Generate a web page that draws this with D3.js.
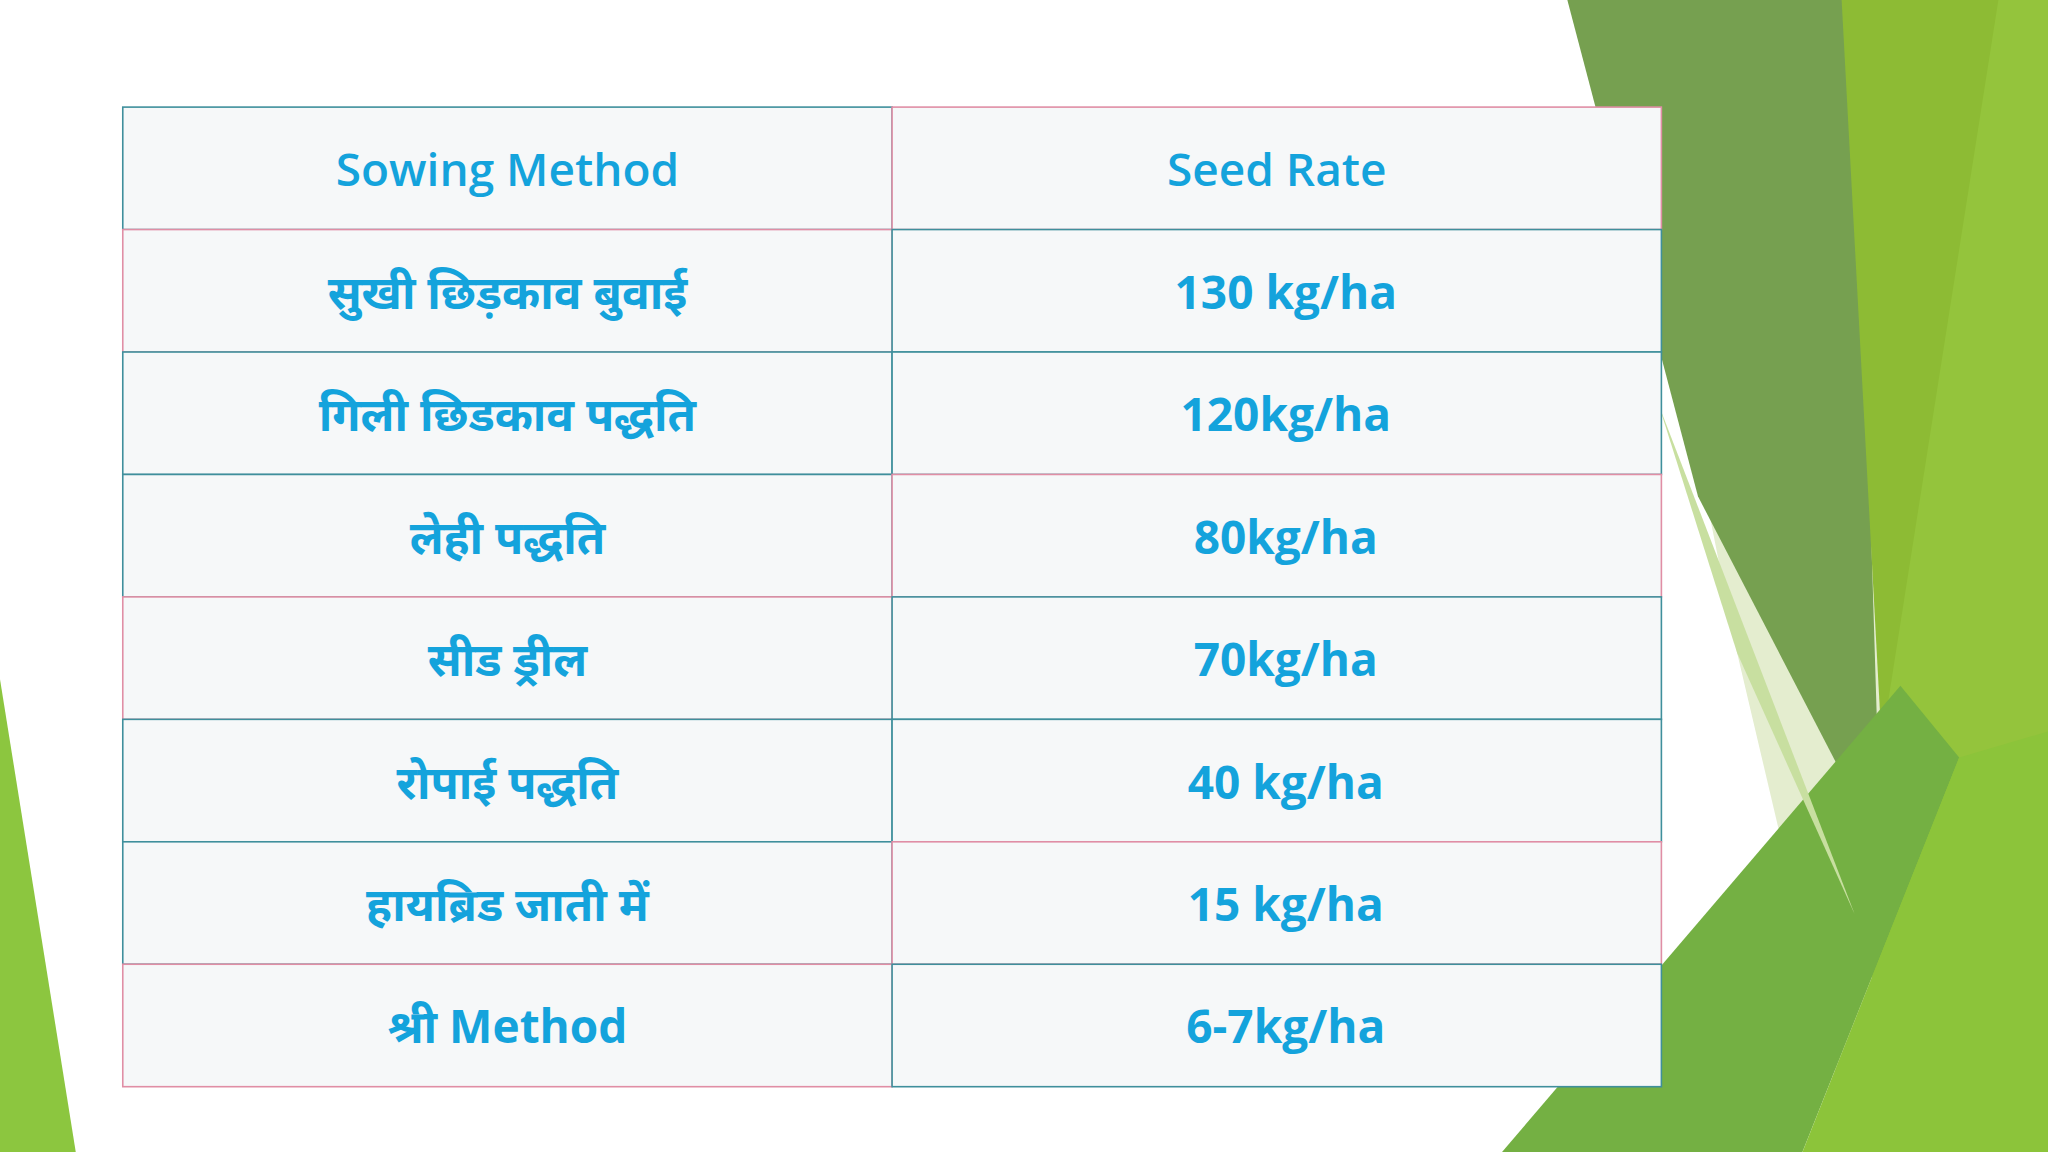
<!DOCTYPE html>
<html><head><meta charset="utf-8">
<script src="https://cdn.jsdelivr.net/npm/d3@7"></script>
<style>body{margin:0;background:#fff;}svg{display:block}</style>
</head><body>
<svg id="c" width="2048" height="1152"></svg>
<script>
const headers = ["Sowing Method", "Seed Rate"];
const methods = ["सुखी  छिड़काव  बुवाई", "गिली  छिडकाव  पद्धति", "लेही  पद्धति", "सीड  ड्रील", "रोपाई  पद्धति", "हायब्रिड  जाती  में", "श्री  Method"];
const rates = ["130 kg/ha", "120kg/ha", "80kg/ha", "70kg/ha", "40 kg/ha", "15 kg/ha", "6-7kg/ha"];

const svg = d3.select("#c");
const k = 2048/1568;
const P = pts => pts.map(p => [p[0]*k, p[1]*k].join(",")).join(" ");
// background shapes
const shapes = [
  [[[0,520],[58,882],[0,882]], "#8cc63f"],
  [[[1230,0],[1568,0],[1568,882],[1420,882],[1330,500]], "#e4edcf"],
  [[[1200,0],[1420,0],[1440,650],[1300,380]], "#76a050"],
  [[[1410,0],[1535,0],[1445,650]], "#8dbb34"],
  [[[1530,0],[1568,0],[1568,882],[1470,882],[1420,700]], "#94c43c"],
  [[[1150,882],[1455,525],[1500,580],[1380,882]], "#74b043"],
  [[[1380,882],[1500,580],[1568,560],[1568,882]], "#8cc43a"],
  [[[1270,310],[1420,700],[1330,500]], "#c8dfa0"]
];
svg.selectAll("polygon.bg").data(shapes).join("polygon")
  .attr("points", d => P(d[0])).attr("fill", d => d[1]);

const rows = [headers].concat(methods.map((m,i)=>[m, rates[i]]));
const x = d3.scaleBand().domain([0,1]).range([94*k, 1272*k]);
const y = d3.scaleBand().domain(d3.range(rows.length)).range([82*k, 832*k]);
const cells = [];
rows.forEach((r,i)=>r.forEach((t,j)=>cells.push({i,j,t})));
svg.selectAll("rect.cell").data(cells).join("rect")
  .attr("x", d=>x(d.j)).attr("y", d=>y(d.i))
  .attr("width", x.bandwidth()).attr("height", y.bandwidth())
  .attr("fill", "#f6f8f9").attr("stroke", d => ((d.i+d.j)%3===1) ? "#e08ea5" : "#3f8f9c").attr("stroke-width", 1.6);
svg.selectAll("text.cell").data(cells).join("text")
  .attr("x", d=>x(d.j)+x.bandwidth()/2+ (d.j===1 && d.i>0 ? 9 : 0)).attr("y", d=>y(d.i)+y.bandwidth()/2)
  .attr("text-anchor","middle").attr("dominant-baseline","central")
  .attr("font-family","'Open Sans','Noto Sans Devanagari','Noto Sans',sans-serif")
  .attr("font-size", 46).attr("font-weight", d=>d.i===0?600:700)
  .attr("fill","#14a3dc").text(d=>d.t);
</script>
</body></html>
